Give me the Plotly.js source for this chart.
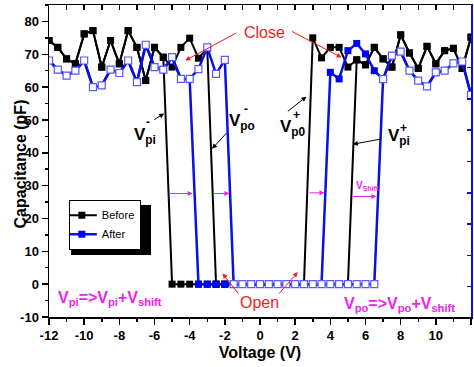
<!DOCTYPE html>
<html>
<head>
<meta charset="utf-8">
<script src="https://cdn.plot.ly/plotly-3.0.1.min.js"></script>
<style>
html,body{margin:0;padding:0;background:#fff;}
#chart{width:474px;height:367px;}
</style>
</head>
<body>
<div id="chart"></div>
<script>
// Gate voltage (V), 0.5 V steps
const voltage = [-12,-11.5,-11,-10.5,-10,-9.5,-9,-8.5,-8,-7.5,-7,-6.5,-6,-5.5,-5,-4.5,-4,-3.5,-3,-2.5,-2,-1.5,-1,-0.5,0,0.5,1,1.5,2,2.5,3,3.5,4,4.5,5,5.5,6,6.5,7,7.5,8,8.5,9,9.5,10,10.5,11,11.5,12];

// Before: forward sweep (-12 -> 12)
const beforeForward = [74.2,72.1,68.6,67.1,76.2,77.2,66.1,74.2,67.1,77.2,72.1,62.0,72.1,69.1,
  0,0,0,0,0,0,0,0,0,0,0,0,0,0,0,0,
  75.0,68.9,72.1,72.1,66.1,68.3,66.8,72.1,68.6,66.1,75.9,70.4,65.7,72.4,67.1,71.1,71.8,65.7,75.2];
// Before: backward sweep (12 -> -12), listed by ascending voltage
const beforeBackward = [74.2,72.1,68.6,67.1,76.2,77.2,66.1,74.2,67.1,77.2,72.1,62.0,72.1,69.1,
  66.1,72.1,74.9,68.8,71.8,
  0,0,0,0,0,0,0,0,0,0,0,0,0,0,0,0,
  68.3,66.8,72.1,68.6,66.1,75.9,70.4,65.7,72.4,67.1,71.1,71.8,65.7,75.2];
// After: forward sweep (filled markers)
const afterForward = [68.1,65.3,63.5,65.0,68.1,60.0,60.5,65.3,64.3,68.1,61.5,72.9,66.1,65.3,69.1,62.5,62.5,
  0,0,0,0,0,0,0,0,0,0,0,0,0,0,0,
  64.5,62.5,71.1,73.3,70.1,65.0,62.4,69.6,70.8,65.0,62.0,60.2,64.5,65.0,67.2,67.8,57.6];
// After: backward sweep (open markers), listed by ascending voltage
const afterBackward = [68.1,65.3,63.5,65.0,68.1,60.0,60.5,65.3,64.3,68.1,61.5,72.9,66.1,65.3,69.1,62.5,62.5,
  65.5,72.1,64.0,68.3,
  0,0,0,0,0,0,0,0,0,0,0,0,0,0,0,0,0,
  62.4,69.6,70.8,65.0,62.0,60.2,64.5,65.0,67.2,67.8,57.6];

const seriesNames = ["Before", "After"];
const xTicks = [-12,-10,-8,-6,-4,-2,0,2,4,6,8,10,12];
const yTicks = [-10,0,10,20,30,40,50,60,70,80];

const FONT = "Liberation Sans, Arial, Helvetica, sans-serif";
const BLACK = "#000000";
const BLUE = "#0a10e0";
const OPENBLUE = "#5a5aff";
const RED = "#ee1c1c";
const MAG = "#f01ef0";

const traces = [
  {x: voltage, y: beforeBackward, name: seriesNames[0], type: "scatter", mode: "lines+markers",
   showlegend: false,
   line: {color: BLACK, width: 2}, marker: {symbol: "square", size: 7, color: BLACK}},
  {x: voltage, y: beforeForward, name: seriesNames[0], type: "scatter", mode: "lines+markers",
   showlegend: true, legendrank: 1,
   line: {color: BLACK, width: 2}, marker: {symbol: "square", size: 7, color: BLACK}},
  {x: voltage, y: afterForward, name: seriesNames[1], type: "scatter", mode: "lines+markers",
   showlegend: true, legendrank: 2,
   line: {color: BLUE, width: 2.5}, marker: {symbol: "square", size: 7, color: "#0000ff"}},
  {x: voltage, y: afterBackward, name: seriesNames[1], type: "scatter", mode: "lines+markers",
   showlegend: false,
   line: {color: BLUE, width: 2.5}, marker: {symbol: "square", size: 7, color: "#ffffff", line: {color: OPENBLUE, width: 1.2}}},
  // carriers for the top and right axes (no marks)
  {x: [null], y: [null], xaxis: "x2", yaxis: "y", showlegend: false, hoverinfo: "skip", type: "scatter"},
  {x: [null], y: [null], xaxis: "x", yaxis: "y2", showlegend: false, hoverinfo: "skip", type: "scatter"}
];

function arrow(tx, ty, ax, ay, color, width) {
  return {x: tx, y: ty, ax: ax, ay: ay, xref: "x", yref: "y", axref: "x", ayref: "y",
    text: "", showarrow: true, arrowhead: 2, arrowsize: 1, arrowwidth: width || 1,
    arrowcolor: color, standoff: 0, startstandoff: 0};
}
function label(x, y, text, size, color, xanchor) {
  return {x: x, y: y, xref: "x", yref: "y", text: text, showarrow: false,
    xanchor: xanchor || "left", yanchor: "middle",
    font: {family: FONT, size: size, color: color}};
}

const annotations = [
  label(0.26, 76.5, "Close", 16, RED, "center"),
  label(-0.03, -5.5, "Open", 16, RED, "center"),
  arrow(-4.25, 68.1, -1.27, 76.7, RED, 1),
  arrow(4.64, 69.0, 1.73, 77.2, RED, 1),
  arrow(-2.13, 3.25, -1.17, -3.3, RED, 1),
  arrow(2.15, 3.7, 1.01, -3.3, RED, 1),

  label(-7.27, 45.1, "<b>V<sub>pi</sub></b>", 17, BLACK),
  label(-6.36, 49.3, "<b>-</b>", 12, BLACK, "center"),
  arrow(-5.45, 52.0, -6.1, 49.8, BLACK, 1),

  label(-1.86, 49.5, "<b>V<sub>po</sub></b>", 17, BLACK),
  label(-0.77, 53.3, "<b>-</b>", 12, BLACK, "center"),
  arrow(-2.73, 41.2, -1.82, 46.5, BLACK, 1),

  label(1.05, 47.7, "<b>V<sub>p0</sub></b>", 17, BLACK),
  label(2.05, 51.4, "<b>+</b>", 12, BLACK, "center"),
  arrow(2.64, 57.1, 1.5, 52.3, BLACK, 1),

  label(7.18, 44.8, "<b>V<sub>pi</sub></b>", 17, BLACK),
  label(8.17, 47.4, "<b>+</b>", 12, BLACK, "center"),
  arrow(5.28, 42.6, 6.99, 44.3, BLACK, 1),

  label(5.37, 29.8, "<b>V<sub>Shift</sub></b>", 10, MAG),
  arrow(-3.83, 27.6, -5.26, 27.6, MAG, 1),
  arrow(-1.74, 27.6, -2.7, 27.6, MAG, 1),
  arrow(3.67, 27.8, 2.72, 27.8, MAG, 1),
  arrow(6.62, 26.7, 5.19, 26.7, MAG, 1),

  label(-8.52, -4.3, "<b>V<sub>pi</sub>=>V<sub>pi</sub>+V<sub>shift</sub></b>", 16, MAG, "center"),
  label(7.94, -6.1, "<b>V<sub>po</sub>=>V<sub>po</sub>+V<sub>shift</sub></b>", 16, MAG, "center"),

  // y axis title
  {x: -0.0687, y: 0.489, xref: "paper", yref: "paper", text: "<b>Capacitance (pF)</b>", showarrow: false,
   textangle: -90, xanchor: "center", yanchor: "middle", font: {family: FONT, size: 16, color: BLACK}}
];

const layout = {
  width: 474, height: 367,
  margin: {l: 49, r: 3, t: 5, b: 50, pad: 0},
  paper_bgcolor: "#ffffff", plot_bgcolor: "#ffffff",
  font: {family: FONT, color: BLACK},
  showlegend: true,
  legend: {x: 0.047, y: 0.296, xanchor: "left", yanchor: "middle",
    bgcolor: "#ffffff", bordercolor: BLACK, borderwidth: 1, traceorder: "normal",
    font: {family: FONT, size: 11, color: BLACK}, itemwidth: 30, tracegroupgap: 0, indentation: -8},
  xaxis: {range: [-12, 12], tickvals: xTicks, ticktext: xTicks.map(String),
    ticks: "outside", ticklen: 6, tickwidth: 1.5, tickcolor: BLACK,
    minor: {dtick: 1, ticks: "outside", ticklen: 3, tickwidth: 1.5, tickcolor: BLACK},
    showline: true, linecolor: BLACK, linewidth: 1.5, showgrid: false, zeroline: false,
    tickfont: {family: FONT, size: 13, color: BLACK, weight: "bold"},
    title: {text: "<b>Voltage (V)</b>", font: {family: FONT, size: 16, color: BLACK}, standoff: 4}},
  xaxis2: {range: [-12, 12], overlaying: "x", side: "top", anchor: "y", dtick: 1, tick0: 0,
    ticks: "inside", ticklen: 5, tickwidth: 1.5, tickcolor: BLACK, showticklabels: false,
    showline: true, linecolor: BLACK, linewidth: 1.5, showgrid: false, zeroline: false},
  yaxis: {range: [-10, 85], tickvals: yTicks, ticktext: yTicks.map(String),
    ticks: "outside", ticklen: 6, tickwidth: 1.5, tickcolor: BLACK,
    minor: {dtick: 5, ticks: "outside", ticklen: 3, tickwidth: 1.5, tickcolor: BLACK},
    showline: true, linecolor: BLACK, linewidth: 1.5, showgrid: false, zeroline: false,
    tickfont: {family: FONT, size: 13, color: BLACK, weight: "bold"}},
  yaxis2: {range: [-0.97, 9.0], overlaying: "y", side: "right", anchor: "x", dtick: 1, tick0: 0,
    ticks: "inside", ticklen: 4, tickwidth: 1.5, tickcolor: BLUE, showticklabels: false,
    showline: true, linecolor: BLUE, linewidth: 1.5, showgrid: false, zeroline: false},
  annotations: annotations,
  shapes: [
    // legend drop shadow (sits behind the legend frame, offset right/down)
    {type: "rect", xref: "paper", yref: "paper", x0: 0.0521, x1: 0.2417, y0: 0.1987, y1: 0.359,
     fillcolor: BLACK, line: {width: 0}, layer: "above"}
  ]
};

Plotly.newPlot("chart", traces, layout, {staticPlot: true, displayModeBar: false});
</script>
</body>
</html>
